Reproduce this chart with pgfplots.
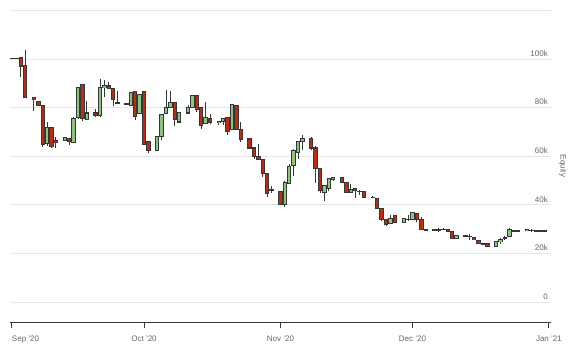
\documentclass[border=0pt]{standalone}
\usepackage{pgfplots}
\pgfplotsset{compat=1.18}
\usepackage{pgfplotstable}
\usepackage{fontspec}
\setmainfont{Liberation Sans}
\definecolor{cred}{RGB}{191,42,16}
\definecolor{cgreen}{RGB}{144,196,124}
\definecolor{cdark}{RGB}{51,56,56}
\definecolor{lbl}{RGB}{102,102,102}
\definecolor{grd}{RGB}{230,230,230}

% day index from 1 Sep 2020; values in thousands
\pgfplotstableread{
d o h l c
2 100.5 100.5 92.7 96.8
3 97.3 103.9 84.0 84.0
5 84.0 84.2 78.5 83.2
6 82.6 82.6 80.7 80.7
7 80.7 80.7 63.8 64.7
9 72.0 72.0 63.5 64.0
10 66.3 67.9 63.6 65.8
13 67.3 67.3 64.8 65.9
16 89.4 89.4 74.4 75.5
19 77.8 79.5 76.2 76.7
22 89.3 90.7 87.9 87.9
23 87.7 87.7 80.8 83.3
26 81.6 81.6 81.4 81.4
28 86.7 86.7 74.8 76.4
30 86.7 86.7 64.7 64.7
31 66.1 66.1 61.3 62.3
37 82.2 82.2 72.3 75.1
42 85.0 85.0 78.1 79.2
43 79.9 79.9 71.2 72.6
45 75.4 77.4 73.3 73.7
49 75.8 76.3 68.6 70.3
51 80.8 80.8 70.9 70.9
52 70.9 73.9 66.0 66.8
54 67.1 67.1 63.4 63.4
55 63.4 63.4 58.7 59.9
56 59.9 65.2 58.6 58.6
57 58.8 58.8 51.4 52.7
58 53.1 53.1 43.2 44.5
61 45.5 45.5 40.0 40.0
68 67.5 67.8 62.7 63.4
69 63.4 64.3 49.0 55.0
70 54.8 54.8 44.8 45.8
75 51.4 51.4 49.0 49.0
76 49.0 49.0 45.2 45.2
78 46.9 46.9 43.0 45.9
80 45.5 45.5 43.2 43.2
83 42.8 42.8 38.6 38.6
84 38.6 38.6 33.2 34.1
85 33.8 33.8 31.3 32.0
87 35.5 35.5 32.9 32.9
92 36.6 36.6 32.8 34.1
93 33.8 34.9 30.0 30.0
99 30.0 30.0 29.0 29.0
100 29.2 29.2 25.8 26.3
103 27.3 27.3 26.9 26.9
105 26.5 26.5 25.6 25.6
106 25.3 25.3 23.9 23.9
108 23.9 23.9 22.7 22.7
}\redc

\pgfplotstableread{
d o h l c
0 100.3 100.3 100.3 100.3
1 100.3 100.3 100.3 100.3
8 65.2 74.1 64.3 72.0
12 66.3 67.9 66.3 67.9
14 65.7 76.0 65.7 75.5
15 75.8 88.5 75.3 88.1
17 75.3 82.6 75.3 77.8
20 76.6 92.0 76.2 88.1
21 88.1 91.3 84.5 89.3
24 82.0 87.0 82.0 82.0
27 80.8 86.3 80.8 86.3
29 77.5 85.5 77.5 85.5
33 62.3 68.2 62.3 68.2
34 68.2 77.1 66.5 77.1
35 77.4 87.4 77.4 79.9
36 79.9 86.7 79.9 82.2
38 74.1 78.1 74.1 78.1
40 77.8 81.2 77.8 79.9
41 79.9 85.0 79.9 85.0
44 73.3 82.2 73.3 75.8
47 73.7 74.4 73.0 74.4
48 74.4 75.4 72.8 75.4
50 71.2 81.5 71.2 81.5
59 46.2 47.8 44.7 46.2
62 40.0 49.9 39.2 49.0
63 48.7 56.8 48.7 55.6
64 56.1 63.1 51.7 62.3
65 61.7 65.9 58.9 65.9
66 65.9 68.9 62.7 67.5
71 45.2 47.8 41.4 47.8
72 46.9 51.0 45.9 51.0
73 50.3 51.4 49.8 51.4
77 45.2 48.5 45.2 46.5
79 45.5 46.0 44.0 45.5
82 43.2 43.6 43.2 43.2
86 32.5 35.9 32.5 34.5
89 32.9 34.5 32.9 34.5
90 34.1 35.9 33.2 34.1
91 34.1 36.8 34.1 36.8
94 29.7 29.7 29.7 29.7
96 29.7 29.7 29.7 29.7
97 29.8 30.4 28.9 29.8
98 29.9 30.3 29.9 29.9
101 26.1 27.2 26.1 27.2
104 27.0 27.8 25.5 27.0
107 23.9 23.9 23.9 23.9
110 22.7 24.9 22.7 24.9
111 24.9 26.5 24.0 25.6
112 26.5 27.2 25.5 26.5
113 26.9 30.5 26.9 30.0
114 29.4 29.4 29.4 29.4
115 29.4 29.4 29.4 29.4
117 29.3 30.0 29.3 30.0
118 29.5 30.0 29.0 29.5
119 29.4 29.4 29.4 29.4
120 29.4 29.4 29.4 29.4
121 29.4 29.4 29.4 29.4
}\greenc

\pgfplotsset{
  wick/.style={forget plot, draw=none, mark=none,
    error bars/.cd, y dir=both, y explicit, error mark=none,
    error bar style={draw=cdark, line width=1pt}},
  body/.style={forget plot, draw=none, mark=none,
    error bars/.cd, y dir=both, y explicit, error mark=none,
    error bar style={draw=#1, line width=4.4pt}},
  fillb/.style={forget plot, draw=none, mark=none,
    error bars/.cd, y dir=both, y explicit, error mark=none,
    error bar style={draw=#1, line width=2.4pt}},
}

\begin{document}
\begin{tikzpicture}[x=1pt,y=1pt]
\path[use as bounding box] (0,0) rectangle (580,360);
\begin{axis}[
  at={(10pt,38pt)}, anchor=south west, scale only axis,
  width=540.7pt, height=312pt,
  xmin=-0.45, xmax=122.4, ymin=-8.23, ymax=120.2,
  clip=false,
  axis x line*=bottom, axis y line*=right,
  y axis line style={draw=none},
  x axis line style={cdark, line width=1pt},
  ytick={0,20,40,60,80,100,120},
  yticklabels={0,20k,40k,60k,80k,100k,{}},
  ytick style={draw=none},
  ymajorgrids,
  major grid style={grd, line width=1pt},
  yticklabel style={anchor=south east, font=\fontsize{8}{9}\selectfont, text=lbl, inner sep=0pt, xshift=-2.7pt, yshift=2.5pt},
  xtick={0,30,61,91,122},
  xticklabels={\makebox[0pt][l]{Sep '20},Oct '20,Nov '20,Dec '20,Jan '21},
  xtick align=outside,
  major tick length=6pt,
  xtick style={cdark, line width=1pt},
  xticklabel style={font=\fontsize{8}{9}\selectfont, text=lbl, yshift=-4pt},
  /pgf/number format/assume math mode=true,
]
\addplot[wick] table[x=d,
  y expr={(max(\thisrow{h},\thisrow{o},\thisrow{c})+min(\thisrow{l},\thisrow{o},\thisrow{c}))/2},
  y error expr={(max(\thisrow{h},\thisrow{o},\thisrow{c})-min(\thisrow{l},\thisrow{o},\thisrow{c}))/2}] {\redc};
\addplot[wick] table[x=d,
  y expr={(max(\thisrow{h},\thisrow{o},\thisrow{c})+min(\thisrow{l},\thisrow{o},\thisrow{c}))/2},
  y error expr={(max(\thisrow{h},\thisrow{o},\thisrow{c})-min(\thisrow{l},\thisrow{o},\thisrow{c}))/2}] {\greenc};
\addplot[body=cdark] table[x=d, y expr={(\thisrow{o}+\thisrow{c})/2},
  y error expr={abs(\thisrow{c}-\thisrow{o})/2+0.21}] {\redc};
\addplot[body=cdark] table[x=d, y expr={(\thisrow{o}+\thisrow{c})/2},
  y error expr={abs(\thisrow{c}-\thisrow{o})/2+0.21}] {\greenc};
\addplot[fillb=cred] table[x=d, y expr={(\thisrow{o}+\thisrow{c})/2},
  y error expr={max(abs(\thisrow{c}-\thisrow{o})/2-0.21,0)}] {\redc};
\addplot[fillb=cgreen] table[x=d, y expr={(\thisrow{o}+\thisrow{c})/2},
  y error expr={max(abs(\thisrow{c}-\thisrow{o})/2-0.21,0)}] {\greenc};
\node[xshift=12pt, rotate=-90, font=\fontsize{8}{9}\selectfont, text=lbl] at (rel axis cs:1,0.5) {Equity};
\end{axis}
\end{tikzpicture}
\end{document}
